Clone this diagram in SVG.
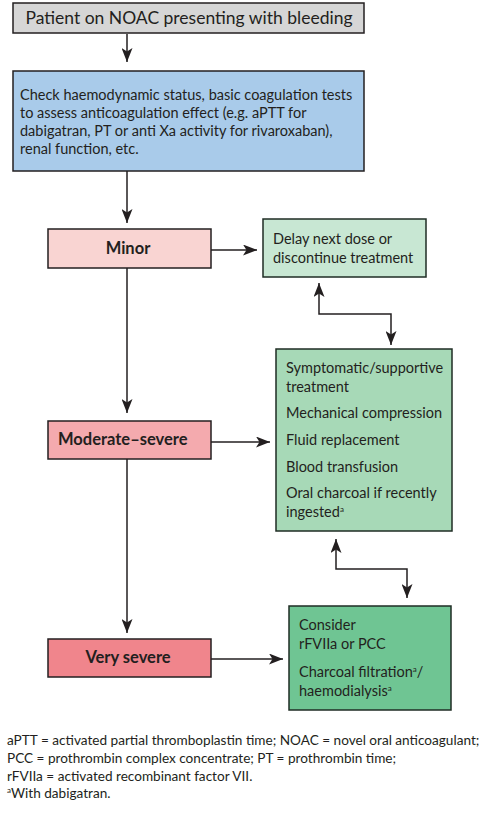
<svg xmlns="http://www.w3.org/2000/svg" width="480" height="813" viewBox="0 0 480 813">
<defs>
<marker id="ah" viewBox="0 0 14 11" refX="14" refY="5.5" markerWidth="14" markerHeight="11" markerUnits="userSpaceOnUse" orient="auto-start-reverse">
<path d="M0,0 L14,5.5 L0,11 L3.5,5.5 Z" fill="#231f20"/>
</marker>
<style>
text{font-family:Lato,"Liberation Sans",sans-serif;fill:#231f20;}
.box{stroke:#231f20;stroke-width:1.5;}
.gbox{stroke:#1f2d24;stroke-width:1.5;}
.t{font-size:14.5px;}
.b{font-size:16.5px;font-weight:bold;}
.f{font-size:13.6px;}
.c{stroke:#231f20;stroke-width:1.5;fill:none;}
</style>
</defs>
<rect width="480" height="813" fill="#ffffff"/>
<g id="n-start">
<rect class="box" x="13" y="3" width="351" height="30" fill="#d6d6d6"/>
<text x="189" y="24" text-anchor="middle" style="font-size:17.5px">Patient on NOAC presenting with bleeding</text>
</g>
<g id="n-check">
<rect class="box" x="13" y="71" width="351" height="100" fill="#a9cbea"/>
<text class="t" x="20" y="100">Check haemodynamic status, basic coagulation tests</text>
<text class="t" x="20" y="118">to assess anticoagulation effect (e.g. aPTT for</text>
<text class="t" x="20" y="136">dabigatran, PT or anti Xa activity for rivaroxaban),</text>
<text class="t" x="20" y="154">renal function, etc.</text>
</g>
<g id="n-minor">
<rect class="box" x="48" y="229" width="163" height="39" fill="#f9d4d2"/>
<text class="b" x="128" y="254" text-anchor="middle">Minor</text>
</g>
<g id="n-moderate">
<rect class="box" x="48" y="421" width="163" height="38" fill="#f4aaae"/>
<text class="b" x="58" y="445">Moderate–severe</text>
</g>
<g id="n-very">
<rect class="box" x="48" y="639" width="163" height="38" fill="#f0858c"/>
<text class="b" x="128" y="663" text-anchor="middle">Very severe</text>
</g>
<g id="n-delay">
<rect class="gbox" x="263" y="219" width="163" height="58" fill="#c8e7d3"/>
<text class="t" x="273" y="244">Delay next dose or</text>
<text class="t" x="273" y="263">discontinue treatment</text>
</g>
<g id="n-supportive">
<rect class="gbox" x="276" y="349" width="176" height="182" fill="#a7d9b7"/>
<text class="t" x="286" y="373">Symptomatic/supportive</text>
<text class="t" x="286" y="392">treatment</text>
<text class="t" x="286" y="418">Mechanical compression</text>
<text class="t" x="286" y="445">Fluid replacement</text>
<text class="t" x="286" y="472">Blood transfusion</text>
<text class="t" x="286" y="498">Oral charcoal if recently</text>
<text class="t" x="286" y="517">ingested<tspan font-size="8" dy="-5">a</tspan></text>
</g>
<g id="n-consider">
<rect class="gbox" x="289" y="606" width="162" height="104" fill="#6fc593"/>
<text class="t" x="299" y="630">Consider</text>
<text class="t" x="299" y="649">rFVIIa or PCC</text>
<text class="t" x="299" y="677">Charcoal filtration<tspan font-size="8" dy="-5">a</tspan><tspan dy="5">/</tspan></text>
<text class="t" x="299" y="696">haemodialysis<tspan font-size="8" dy="-5">a</tspan></text>
</g>
<g id="connectors">
<line class="c" x1="127" y1="34" x2="127" y2="62" marker-end="url(#ah)"/>
<line class="c" x1="127" y1="171" x2="127" y2="223" marker-end="url(#ah)"/>
<line class="c" x1="211" y1="250" x2="257" y2="250" marker-end="url(#ah)"/>
<line class="c" x1="127" y1="268" x2="127" y2="413" marker-end="url(#ah)"/>
<line class="c" x1="211" y1="442" x2="270" y2="442" marker-end="url(#ah)"/>
<line class="c" x1="127" y1="459" x2="127" y2="633" marker-end="url(#ah)"/>
<line class="c" x1="211" y1="659" x2="283" y2="659" marker-end="url(#ah)"/>
<polyline class="c" points="319,283 319,314 391,314 391,345" marker-start="url(#ah)" marker-end="url(#ah)"/>
<polyline class="c" points="336,539 336,569 407,569 407,598" marker-start="url(#ah)" marker-end="url(#ah)"/>
</g>
<g id="footnote">
<text class="f" x="7" y="745">aPTT = activated partial thromboplastin time; NOAC = novel oral anticoagulant;</text>
<text class="f" x="7" y="763">PCC = prothrombin complex concentrate; PT = prothrombin time;</text>
<text class="f" x="7" y="781">rFVIIa = activated recombinant factor VII.</text>
<text class="f" x="7" y="798"><tspan font-size="8" dy="-5">a</tspan><tspan dy="5">With dabigatran.</tspan></text>
</g>
</svg>
